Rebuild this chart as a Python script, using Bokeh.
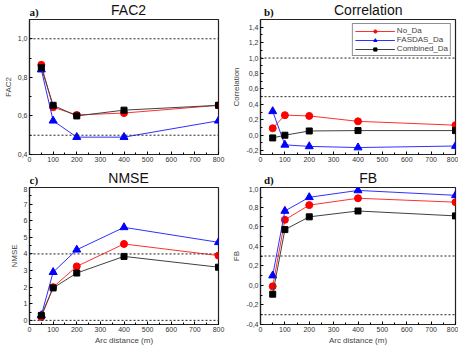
from bokeh.plotting import figure
from bokeh.layouts import gridplot
from bokeh.models import (FixedTicker, CustomJSTickFormatter, Span, Range1d, Label)
from bokeh.embed import file_html
from bokeh.resources import INLINE

# ---------------- data ----------------
distance = [50, 100, 200, 400, 800]
series_names = ["No_Da", "FASDAS_Da", "Combined_Da"]

fac2_no = [0.865, 0.645, 0.605, 0.615, 0.655]
fac2_fasdas = [0.84, 0.575, 0.49, 0.49, 0.575]
fac2_comb = [0.85, 0.655, 0.60, 0.63, 0.655]

corr_no = [0.09, 0.26, 0.25, 0.18, 0.13]
corr_fasdas = [0.31, -0.125, -0.145, -0.16, -0.14]
corr_comb = [-0.035, 0.0, 0.055, 0.06, 0.06]

nmse_no = [0.2, 2.0, 3.25, 4.6, 3.9]
nmse_fasdas = [0.3, 2.9, 4.25, 5.6, 4.7]
nmse_comb = [0.3, 1.95, 2.85, 3.85, 3.2]

fb_no = [-0.01, 0.67, 0.82, 0.89, 0.85]
fb_fasdas = [0.1, 0.76, 0.9, 0.97, 0.92]
fb_comb = [-0.09, 0.57, 0.70, 0.76, 0.71]

x_ticks = [0, 100, 200, 300, 400, 500, 600, 700, 800]
fac2_ticks = [0.4, 0.6, 0.8, 1.0]
corr_ticks = [-0.2, 0.0, 0.2, 0.4, 0.6, 0.8, 1.0, 1.2, 1.4]
nmse_ticks = [0, 1, 2, 3, 4, 5, 6, 7, 8]
fb_ticks = [-0.4, -0.2, 0.0, 0.2, 0.4, 0.6, 0.8, 1.0]

fac2_refs = [0.5, 1.0]
corr_refs = [0.5, 1.0]
nmse_refs = [0, 4]
fb_refs = [-0.3, 0.3]

titles = ["FAC2", "Correlation", "NMSE", "FB"]
tags = ["a)", "b)", "c)", "d)"]

# ---------------- styling ----------------
colors = ["#ff0000", "#0000ff", "#000000"]
line_colors = ["#ff3030", "#3030ff", "#404040"]
markers = ["circle", "triangle", "square"]
msizes = [7, 8, 6]
FONT = "Liberation Sans"
W = 229
LEFT_B = (22, 11)
RIGHT_B = (27, 3)

comma_fmt = CustomJSTickFormatter(code="return tick.toFixed(1).replace('.', ',');")
int_fmt = CustomJSTickFormatter(code="return tick.toFixed(0);")


def half_steps(ticks):
    return [(a + b) / 2.0 for a, b in zip(ticks[:-1], ticks[1:])]


def title_strip(title, tag, height, borders, tag_x):
    t = figure(width=W, height=height, output_backend="svg",
               toolbar_location=None, x_range=Range1d(0, W),
               y_range=Range1d(0, height), x_axis_type=None, y_axis_type=None,
               min_border=0)
    t.outline_line_color = None
    t.grid.visible = False
    cx = borders[0] + (W - borders[0] - borders[1]) / 2.0
    t.add_layout(Label(x=cx, y=1, text=title, text_align="center",
                       text_baseline="bottom", text_font=FONT,
                       text_font_size="14px", text_color="#111111"))
    t.add_layout(Label(x=tag_x, y=1, text=tag, text_align="left",
                       text_baseline="bottom", text_font="Liberation Serif",
                       text_font_style="bold", text_font_size="11px",
                       text_color="#111111"))
    return t


def panel(ylabel, yrange, yticks, refs, data, xlabel, height, borders,
          legend=False, yfmt=None):
    p = figure(width=W, height=height, output_backend="svg",
               toolbar_location=None, x_range=Range1d(0, 800),
               y_range=Range1d(*yrange),
               min_border_left=borders[0], min_border_right=borders[1],
               min_border_top=borders[2], min_border_bottom=borders[3])
    p.grid.visible = False
    p.outline_line_color = "#222222"
    p.outline_line_width = 1.2

    xa = p.xaxis[0]
    xa.ticker = FixedTicker(ticks=x_ticks, minor_ticks=half_steps(x_ticks))
    xa.formatter = int_fmt
    ya = p.yaxis[0]
    ya.ticker = FixedTicker(ticks=yticks, minor_ticks=half_steps(yticks))
    ya.formatter = yfmt if yfmt is not None else comma_fmt
    for ax in (xa, ya):
        ax.major_tick_in = 3
        ax.major_tick_out = 0
        ax.minor_tick_in = 2
        ax.minor_tick_out = 0
        ax.major_label_text_font = FONT
        ax.major_label_text_font_size = "7px"
        ax.major_label_text_color = "#333333"
        ax.major_label_standoff = 2
        ax.axis_line_color = "#222222"
        ax.axis_line_width = 1.2
        ax.axis_label_text_font = FONT
        ax.axis_label_text_font_size = "8px"
        ax.axis_label_text_font_style = "normal"
        ax.axis_label_standoff = 2
    ya.axis_label = ylabel
    if xlabel:
        xa.axis_label = "Arc distance (m)"
        xa.axis_label_standoff = 1

    for v in refs:
        p.add_layout(Span(location=v, dimension="width", line_color="#222222",
                          line_dash="2 2", line_width=1))

    for name, ys, c, lc, m, s in zip(series_names, data, colors, line_colors,
                                     markers, msizes):
        if legend:
            p.line(distance, ys, line_color=lc, line_width=1, legend_label=name)
            p.scatter(distance, ys, marker=m, size=s, fill_color=c,
                      line_color=c, legend_label=name)
        else:
            p.line(distance, ys, line_color=lc, line_width=1)
            p.scatter(distance, ys, marker=m, size=s, fill_color=c, line_color=c)

    if legend:
        lg = p.legend[0]
        lg.location = "top_right"
        lg.label_text_font = FONT
        lg.label_text_font_size = "8px"
        lg.label_height = 8
        lg.glyph_height = 8
        lg.glyph_width = 40
        lg.spacing = 0
        lg.padding = 2
        lg.margin = 4
        lg.label_standoff = 2
        lg.border_line_color = "#222222"
        lg.border_line_width = 1
        lg.background_fill_alpha = 1.0
    return p


ta = title_strip(titles[0], tags[0], 18, LEFT_B, 0)
tb = title_strip(titles[1], tags[1], 18, RIGHT_B, 4)
tc = title_strip(titles[2], tags[2], 18, LEFT_B, 0)
td = title_strip(titles[3], tags[3], 18, RIGHT_B, 4)

pa = panel("FAC2", (0.4, 1.1), fac2_ticks, fac2_refs,
           [fac2_no, fac2_fasdas, fac2_comb], False, 150,
           (LEFT_B[0], LEFT_B[1], 1, 14))
pb = panel("Correlation", (-0.25, 1.5), corr_ticks, corr_refs,
           [corr_no, corr_fasdas, corr_comb], False, 150,
           (RIGHT_B[0], RIGHT_B[1], 1, 14), legend=True)
pc = panel("NMSE", (-0.25, 8.0), nmse_ticks, nmse_refs,
           [nmse_no, nmse_fasdas, nmse_comb], True, 162,
           (LEFT_B[0], LEFT_B[1], 1, 24), yfmt=int_fmt)
pd_ = panel("FB", (-0.4, 1.0), fb_ticks, fb_refs,
            [fb_no, fb_fasdas, fb_comb], True, 162,
            (RIGHT_B[0], RIGHT_B[1], 1, 24))

grid = gridplot([[ta, tb], [pa, pb], [tc, td], [pc, pd_]],
                toolbar_location=None)

open("out.html", "w").write(file_html(grid, INLINE))
